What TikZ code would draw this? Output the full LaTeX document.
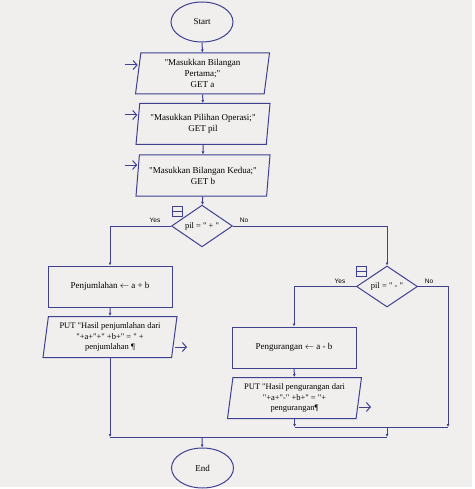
\documentclass[tikz,border=0pt]{standalone}
\usepackage{fontspec}
\setmainfont{Liberation Serif}[Ligatures=TeXOff]
\newfontfamily\yesnofont{Liberation Sans}
\usepackage{tikz}
\usepackage{xcolor}
\usetikzlibrary{positioning,arrows.meta,shapes.geometric,calc}
\definecolor{flowline}{RGB}{64,64,145}
\definecolor{flowbg}{RGB}{240,239,238}

\begin{document}
\begin{tikzpicture}[
      x=1pt, y=-1pt,
      every node/.style={text=black},
      term/.style={draw=flowline, line width=1pt, ellipse, minimum width=62pt, minimum height=40pt, inner sep=0pt, font=\fontsize{9}{11}\selectfont},
      io/.style={draw=flowline, line width=1pt, trapezium, trapezium left angle=80, trapezium right angle=100, trapezium stretches body=true, minimum width=134pt, minimum height=41pt, inner sep=1pt, align=center, font=\fontsize{9}{11}\selectfont},
      putio/.style={io, font=\fontsize{8.5}{10.5}\selectfont},
      proc/.style={draw=flowline, line width=1pt, rectangle, minimum width=124pt, minimum height=41pt, align=center, font=\fontsize{9}{11}\selectfont},
      decide/.style={draw=flowline, line width=1pt, diamond, minimum width=61pt, minimum height=41pt, inner sep=0pt, font=\fontsize{8.5}{10}\selectfont},
      fold/.style={draw=flowline, line width=0.8pt, minimum width=10pt, minimum height=10pt, inner sep=0pt,
        path picture={\draw[flowline, line width=0.8pt] (path picture bounding box.west) -- (path picture bounding box.east);}},
      yn/.style={font=\yesnofont\fontsize{6.5}{7}\selectfont, inner sep=0pt},
      line/.style={draw=flowline, line width=1pt},
      arr/.style={line, -{Latex[length=3pt, width=3pt]}},
      ioarr/.style={line, -{Straight Barb[length=4pt, width=9pt]}}
  ]
    \fill[white] (0,0) rectangle (474,489);
    \fill[flowbg] (0,0) rectangle (472,487);
    \useasboundingbox (0,0) rectangle (474,489);

    \node[term] (start) at (202,22) {Start};
    \node[io] (first) at (202.5,73.5) {"Masukkan Bilangan\\Pertama;"\\GET a};
    \node[io] (oper) at (203,124) {"Masukkan Pilihan Operasi;"\\GET pil};
    \node[io] (second) at (203,175.5) {"Masukkan Bilangan Kedua;"\\GET b};
    \node[decide] (isplus) at (202,226) {pil = " + "};
    \node[proc] (sum) at (110,286.5) {Penjumlahan $\leftarrow$ a + b};
    \node[putio] (putsum) at (110,337) {PUT "Hasil penjumlahan dari\\"+a+"+" +b+" = " +\\penjumlahan ¶};
    \node[decide] (isminus) at (387,286.5) {pil = " - "};
    \node[proc] (diff) at (294,347.5) {Pengurangan $\leftarrow$ a - b};
    \node[putio] (putdiff) at (294.5,398) {PUT "Hasil pengurangan dari\\"+a+"-" +b+" = "+\\pengurangan¶};
    \node[term] (end) at (202.5,468) {End};

    \node[fold] (fold1) at (177,211) {};
    \node[fold] (fold2) at (361,271.5) {};
    \node[yn] (yes1) at (155,220) {Yes};
    \node[yn] (no1) at (244,220) {No};
    \node[yn] (yes2) at (340,281) {Yes};
    \node[yn] (no2) at (429,281) {No};

    \coordinate (in1) at (125,65);
    \coordinate (in2) at (125,115);
    \coordinate (in3) at (125,165);
    \coordinate (out1) at (187,347);
    \coordinate (out2) at (371,407);
    \coordinate (rightend) at (448,427);
    \coordinate (join2) at (387,427);
    \coordinate (join1) at (202,437);

    \draw[arr] (start) -- (first);
    \draw[arr] (first) -- (oper);
    \draw[arr] (oper) -- (second);
    \draw[arr] (second) -- (isplus);
    \draw[arr] (isplus.west) -| (sum.north);
    \draw[arr] (isplus.east) -| (isminus.north);
    \draw[arr] (sum) -- (putsum);
    \draw[arr] (isminus.west) -| (diff.north);
    \draw[arr] (diff) -- (putdiff);
    \draw[arr] (isminus.east) -| (rightend);
    \draw[arr] (putdiff.south) -- (putdiff.south |- join2);
    \draw[line] (putdiff.south |- join2) -- (rightend);
    \draw[arr] (join2) -- (join2 |- join1);
    \draw[arr] (putsum.south) -- (putsum.south |- join1);
    \draw[line] (putsum.south |- join1) -- (join2 |- join1);
    \draw[arr] (join1) -- (end);

    \draw[ioarr] (in1) -- (in1 -| first.west);
    \draw[ioarr] (in2) -- (in2 -| oper.west);
    \draw[ioarr] (in3) -- (in3 -| second.west);
    \draw[ioarr] (putsum.east |- out1) -- (out1);
    \draw[ioarr] (putdiff.east |- out2) -- (out2);
  \end{tikzpicture}
\end{document}
